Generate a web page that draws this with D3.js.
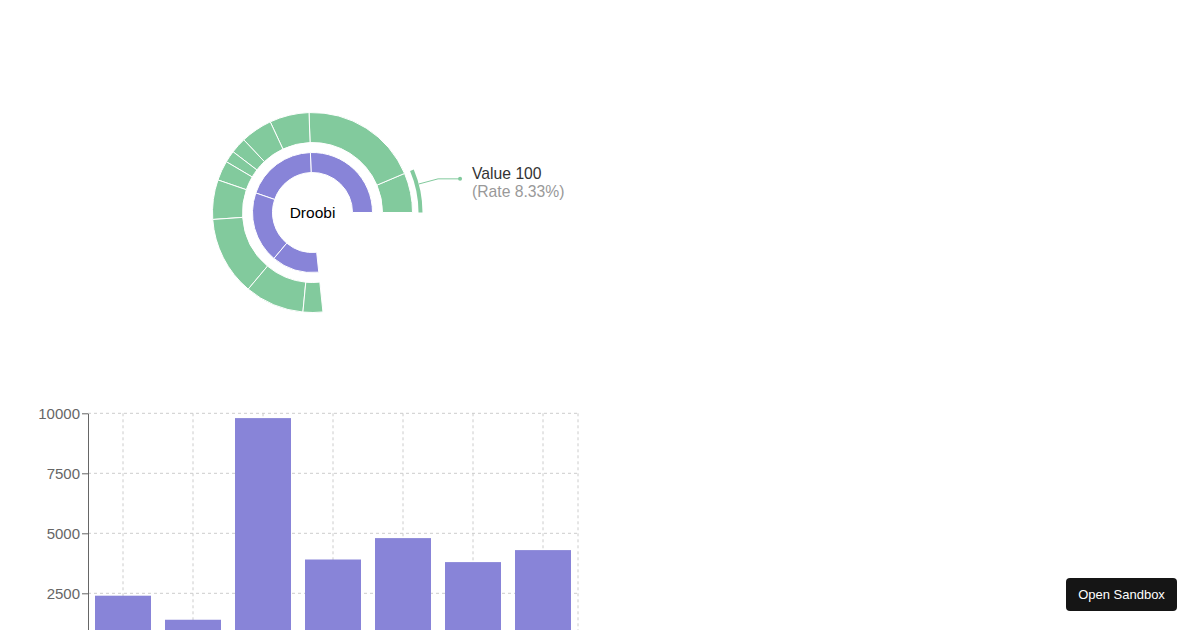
<!DOCTYPE html>
<html>
<head>
<meta charset="utf-8">
<script src="https://cdn.jsdelivr.net/npm/d3@7"></script>
<style>
  body { margin: 0; background: #fff; overflow: hidden; font-family: "Liberation Sans", Arial, sans-serif; }
  #chart { position: absolute; left: 0; top: 0; }
  .sandbox {
    position: absolute; left: 1066px; top: 578px; width: 111px; height: 33px;
    background: #151515; color: #fff; border-radius: 4px;
    font: 13px "Liberation Sans", Arial, sans-serif;
    display: flex; align-items: center; justify-content: center;
  }
</style>
</head>
<body>
<svg id="chart" width="1200" height="630"></svg>
<div class="sandbox">Open Sandbox</div>
<script>
// pie data (inner ring = groups, outer ring = children)
const innerValues = [400, 300, 300, 200];
const outerValues = [100, 300, 100, 80, 40, 30, 50, 100, 200, 150, 50];
const activeIndex = 0;
const activeName = 'Droobi';

// bar data
const barCategories = ['Page A', 'Page B', 'Page C', 'Page D', 'Page E', 'Page F', 'Page G'];
const barValues = [2400, 1398, 9800, 3908, 4800, 3800, 4300];
const yTicks = [0, 2500, 5000, 7500, 10000];

const svg = d3.select('#chart');
const rad = d => d * Math.PI / 180;

// ---- pie ----
const cx = 312.5, cy = 212.5;
const sweep = 276; // degrees, counter-clockwise from 3 o'clock

const pie = d3.pie().sort(null)
    .startAngle(Math.PI / 2)
    .endAngle(Math.PI / 2 - rad(sweep));

const pieG = svg.append('g').attr('transform', `translate(${cx},${cy})`);

const innerArc = d3.arc().innerRadius(40).outerRadius(60);
const outerArc = d3.arc().innerRadius(70).outerRadius(100);
const ringArc = d3.arc().innerRadius(106).outerRadius(110);

pieG.selectAll('path.inner')
    .data(pie(innerValues))
    .enter().append('path')
    .attr('class', 'inner')
    .attr('d', innerArc)
    .attr('fill', '#8884d8')
    .attr('stroke', '#fff');

const outerData = pie(outerValues);
pieG.selectAll('path.outer')
    .data(outerData)
    .enter().append('path')
    .attr('class', 'outer')
    .attr('d', outerArc)
    .attr('fill', '#82ca9d')
    .attr('stroke', '#fff');

// active shape
const active = outerData[activeIndex];
pieG.append('path')
    .attr('d', ringArc(active))
    .attr('fill', '#82ca9d');

pieG.append('text')
    .attr('text-anchor', 'middle')
    .attr('dy', '0.35em')
    .style('font-size', '15.5px')
    .attr('fill', '#000')
    .text(activeName);

const total = d3.sum(outerValues);
const rate = active.value / total;
const mid = rad(rate * 360 / 2);
const cos = Math.cos(mid), sin = Math.sin(mid);
const sx = 110 * cos, sy = -110 * sin;
const mx = 130 * cos, my = -130 * sin;
const ex = mx + 22, ey = my;

pieG.append('path')
    .attr('d', `M${sx},${sy}L${mx},${my}L${ex},${ey}`)
    .attr('stroke', '#82ca9d')
    .attr('fill', 'none');
pieG.append('circle')
    .attr('cx', ex).attr('cy', ey).attr('r', 2)
    .attr('fill', '#82ca9d');
pieG.append('text')
    .attr('x', ex + 12).attr('y', ey)
    .style('font-size', '15.7px')
    .attr('fill', '#333')
    .text(`Value ${active.value}`);
pieG.append('text')
    .attr('x', ex + 12).attr('y', ey).attr('dy', 18)
    .style('font-size', '15.7px')
    .attr('fill', '#999')
    .text(`(Rate ${(rate * 100).toFixed(2)}%)`);

// ---- bar chart ----
const plotLeft = 88, plotRight = 578, plotTop = 413.3, plotBottom = 653.3;

const x = d3.scaleBand().domain(barCategories).range([plotLeft, plotRight]);
const y = d3.scaleLinear().domain([0, 10000]).range([plotBottom, plotTop]);

const grid = svg.append('g')
    .attr('stroke', '#ccc')
    .attr('stroke-dasharray', '3 3')
    .attr('fill', 'none');

grid.selectAll('line.h')
    .data(yTicks)
    .enter().append('line')
    .attr('x1', plotLeft).attr('x2', plotRight)
    .attr('y1', d => y(d)).attr('y2', d => y(d));

const vx = barCategories.map(c => x(c) + x.bandwidth() / 2).concat([plotRight]);
grid.selectAll('line.v')
    .data(vx)
    .enter().append('line')
    .attr('x1', d => d).attr('x2', d => d)
    .attr('y1', plotTop).attr('y2', plotBottom);

svg.append('g').selectAll('rect')
    .data(barValues)
    .enter().append('rect')
    .attr('x', (d, i) => x(barCategories[i]) + x.bandwidth() * 0.1)
    .attr('width', x.bandwidth() * 0.8)
    .attr('y', d => y(d))
    .attr('height', d => plotBottom - y(d))
    .attr('fill', '#8884d8');

const yAxis = svg.append('g')
    .attr('transform', `translate(${plotLeft},0)`)
    .call(d3.axisLeft(y).tickValues(yTicks).tickFormat(d3.format('d')).tickSizeOuter(0).tickPadding(2));
yAxis.select('.domain').attr('stroke', '#666');
yAxis.selectAll('.tick line').attr('stroke', '#666');
yAxis.selectAll('.tick text')
    .attr('fill', '#666')
    .style('font-size', '15px')
    .style('font-family', '"Liberation Sans", Arial, sans-serif');
</script>
</body>
</html>
